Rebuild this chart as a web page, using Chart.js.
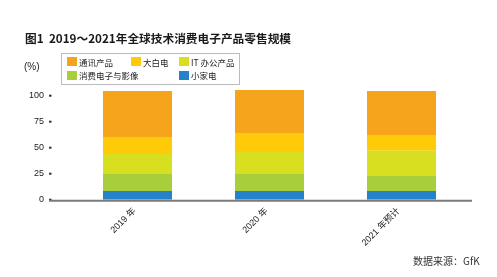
<!DOCTYPE html>
<html><head><meta charset="utf-8">
<script src="https://cdn.jsdelivr.net/npm/chart.js@4"></script>
<style>
html,body{margin:0;padding:0;background:#fff;}
#wrap{position:relative;width:497px;height:277px;overflow:hidden;font-family:"Noto Sans CJK SC","Noto Sans",sans-serif;}
canvas{position:absolute;left:0;top:0;}
#title{position:absolute;left:25px;top:29.5px;font-size:11.7px;font-weight:bold;color:#1a1a1a;white-space:nowrap;line-height:16px;}
#unit{position:absolute;left:24px;top:61px;font-size:10px;color:#222;line-height:12px;font-family:"Liberation Sans",Arial,sans-serif}
#legend{position:absolute;left:61px;top:53px;width:179px;height:32px;border:1px solid #bcbcbc;box-sizing:border-box}
.li{position:absolute;font-size:8.5px;line-height:12px;color:#222;white-space:nowrap;display:flex;align-items:center}
.sw{display:inline-block;width:10px;height:9px;margin-right:2px}
#src{position:absolute;left:413px;top:254px;font-size:10px;line-height:14px;color:#333;letter-spacing:0px;white-space:nowrap}
</style></head>
<body>
<div id="wrap">
<canvas id="c" width="497" height="277"></canvas>
<div id="title">图1&nbsp; 2019～2021年全球技术消费电子产品零售规模</div>
<div id="unit">(%)</div>
<div id="legend"></div>
<div id="src">数据来源：GfK</div>
</div>
<script>
const categories = ['2019 年', '2020 年', '2021 年预计'];
const seriesNames = ['小家电', '消费电子与影像', 'IT 办公产品', '大白电', '通讯产品'];
const smallAppliances = [8.4, 8.4, 8.4];
const consumerImaging = [16.3, 16.3, 14.4];
const itOffice = [19.2, 21.2, 24.3];
const majorAppliances = [16.4, 18.2, 15.1];
const communication = [44.2, 41.4, 42.3];
const yTicks = [0, 25, 50, 75, 100];

const colors = ['#2682C8', '#A8CF3B', '#D7DF20', '#FFCB08', '#F7A41D'];
const seriesValues = [smallAppliances, consumerImaging, itOffice, majorAppliances, communication];
// legend cell positions (left, top) per series index
const legendPos = [[179, 69], [67, 69], [179, 55.5], [131, 55.5], [67, 55.5]];

const wrap = document.getElementById('wrap');
seriesNames.forEach((n, i) => {
  const d = document.createElement('div');
  d.className = 'li';
  d.style.left = legendPos[i][0] + 'px';
  d.style.top = legendPos[i][1] + 'px';
  const s = document.createElement('span');
  s.className = 'sw';
  s.style.background = colors[i];
  d.appendChild(s);
  d.appendChild(document.createTextNode(n));
  wrap.appendChild(d);
});

const axisPlugin = {
  id: 'axisPlugin',
  afterDraw(chart) {
    const ctx = chart.ctx;
    const ys = chart.scales.y;
    const ca = chart.chartArea;
    const left = ys.right - 22.5;
    ctx.save();
    ctx.fillStyle = '#333';
    ys.ticks.forEach(t => {
      const py = ys.getPixelForValue(t.value);
      ctx.fillRect(left, py - 1, 2.5, 2);
    });
    const y0 = ys.getPixelForValue(0);
    ctx.strokeStyle = '#7a7a7a';
    ctx.lineWidth = 2;
    ctx.beginPath();
    ctx.moveTo(left, y0 + 1);
    ctx.lineTo(ca.right + 4.5, y0 + 1);
    ctx.stroke();
    ctx.restore();
  }
};

new Chart(document.getElementById('c'), {
  type: 'bar',
  data: {
    labels: categories,
    datasets: seriesNames.map((n, i) => ({
      label: n,
      data: seriesValues[i],
      backgroundColor: colors[i],
      borderWidth: 0,
      barPercentage: 0.523,
      categoryPercentage: 1
    }))
  },
  options: {
    responsive: false,
    animation: false,
    devicePixelRatio: 1,
    layout: { padding: { top: 85.3, left: 0, right: 29.5, bottom: 0 } },
    plugins: { legend: { display: false }, tooltip: { enabled: false } },
    scales: {
      x: {
        stacked: true,
        grid: { display: false, drawTicks: false },
        border: { display: false },
        ticks: { minRotation: 45, maxRotation: 45, padding: 6, labelOffset: -3, color: '#222',
          font: { size: 9, family: '"Liberation Sans","Noto Sans CJK SC",sans-serif' } },
        afterFit(s) { s.height = 77.3; }
      },
      y: {
        stacked: true,
        min: 0, max: 110,
        grid: { display: false, drawTicks: false },
        border: { display: false },
        afterBuildTicks(s) { s.ticks = yTicks.map(v => ({ value: v })); },
        ticks: { padding: 27.5, color: '#222',
          font: { size: 9, family: '"Liberation Sans",sans-serif' } },
        afterFit(s) { s.width = 71.5; }
      }
    }
  },
  plugins: [axisPlugin]
});
</script>
</body></html>
